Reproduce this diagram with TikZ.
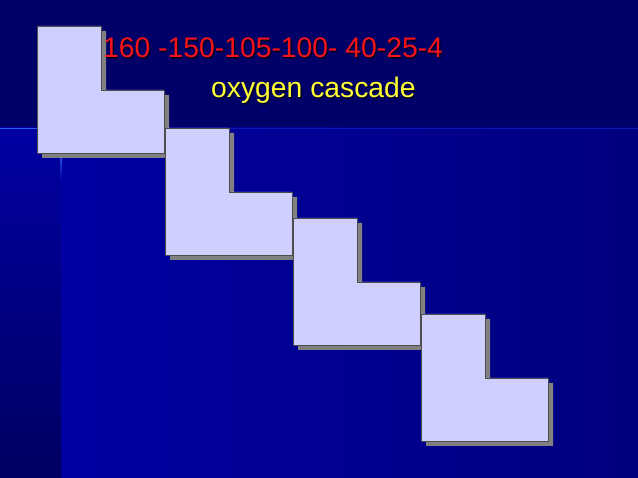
\documentclass[tikz,border=0pt]{standalone}
\usepackage{fontspec}
\setmainfont{Liberation Sans}
\definecolor{bgtop}{HTML}{000068}
\definecolor{bgmidL}{HTML}{0000A2}
\definecolor{bgmidR}{HTML}{00007E}
\definecolor{bgstripB}{HTML}{000062}
\definecolor{lfillc}{HTML}{CFCFFF}
\definecolor{shadowc}{HTML}{808080}
\definecolor{redtxt}{HTML}{F81414}
\definecolor{yeltxt}{HTML}{FFFF33}
\definecolor{txtshadow}{HTML}{000030}
\definecolor{glowline}{HTML}{2E5AF0}
\tikzset{
  lshape/.pic={
    \fill[shadowc] (5,-5) -- (69,-5) -- (69,-69) -- (132,-69) -- (132,-132) -- (5,-132) -- cycle;
    \filldraw[fill=lfillc, draw=black!70, line width=0.6pt] (0,0) -- (64,0) -- (64,-64) -- (127,-64) -- (127,-127) -- (0,-127) -- cycle;
  },
  bigtext/.style={font=\fontsize{28.3}{34}\selectfont, inner sep=0pt, anchor=base west},
}
\begin{document}
\begin{tikzpicture}[x=1pt,y=1pt]
\useasboundingbox (0,0) rectangle (638,478);
% background
\fill[bgtop] (0,0) rectangle (638,478);
\shade[left color=bgmidL, right color=bgmidR] (61,0) rectangle (638,350);
\shade[top color=bgmidL, bottom color=bgstripB] (0,0) rectangle (61,350);
\draw[glowline, line width=0.8pt] (0,350) -- (40,350);
\draw[glowline!25!bgmidL, line width=0.6pt] (40,350) -- (638,350);
\shade[top color=glowline, bottom color=bgmidL] (60.5,298) rectangle (62,326);
% L shapes
\pic at (37,452) {lshape};
\pic at (165,350) {lshape};
\pic at (293,260) {lshape};
\pic at (421,164) {lshape};
% texts
\node[bigtext, text=txtshadow] (redshadow) at (104.5,418.5) {160 -150-105-100- 40-25-4};
\node[bigtext, text=redtxt] (redline) at (103,420) {160 -150-105-100- 40-25-4};
\node[bigtext, text=txtshadow] (yelshadow) at (212.5,378.5) {oxygen cascade};
\node[bigtext, text=yeltxt] (yelline) at (211,380) {oxygen cascade};
\end{tikzpicture}
\end{document}
